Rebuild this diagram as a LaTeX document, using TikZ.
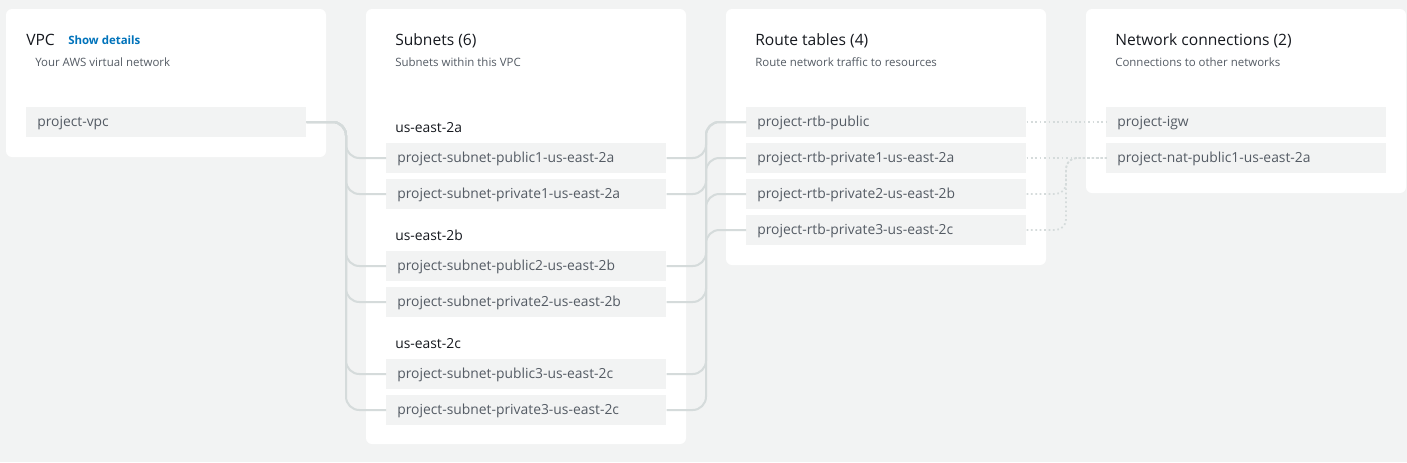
\documentclass[tikz,border=0pt]{standalone}
\usepackage{fontspec}
\setmainfont{Open Sans}
\usetikzlibrary{positioning}
\definecolor{pagebg}{HTML}{F2F3F3}
\definecolor{itembg}{HTML}{F2F3F3}
\definecolor{itemtxt}{HTML}{545B64}
\definecolor{titletxt}{HTML}{16191F}
\definecolor{linkc}{HTML}{D5DBDB}
\definecolor{awsblue}{HTML}{0073BB}

\begin{document}
\begin{tikzpicture}[x=0.75pt,y=-0.75pt,
card/.style={fill=white,rounded corners=4.5pt},
item/.style={fill=itembg,text=itemtxt,font=\fontsize{10.4}{12}\selectfont,
  minimum height=22.5pt,text width=193.5pt,inner xsep=8.25pt,inner ysep=0pt,
  text height=8pt,text depth=2pt,anchor=west,align=left},
title/.style={anchor=base west,inner sep=0pt,text=titletxt,font=\fontsize{11.7}{14}\selectfont},
sub/.style={anchor=base west,inner sep=0pt,text=itemtxt,font=\fontsize{8.6}{10}\selectfont},
zone/.style={anchor=base west,inner sep=0pt,text=titletxt,font=\fontsize{10.4}{12}\selectfont},
link/.style={draw=linkc,line width=1.5pt,rounded corners=10pt},
dlink/.style={draw=linkc,line width=1.3pt,dotted,rounded corners=8pt}]
\fill[pagebg] (0,0) rectangle (1407,462);
\useasboundingbox (0,0) rectangle (1407,462);

% cards
\fill[card] (6,9) rectangle (326,157);
\fill[card] (366,9) rectangle (686,444);
\fill[card] (726,9) rectangle (1046,265);
\fill[card] (1086,9) rectangle (1406,193);

% headings
\node[title] (t-vpc) at (26,45) {VPC};
\node[anchor=base west,inner sep=0pt,text=awsblue,font=\fontsize{8.6}{10}\bfseries] (details) at (68,44) {Show details};
\node[sub] (s-vpc) at (35,66) {Your AWS virtual network};
\node[title] (t-sn) at (395,45) {Subnets (6)};
\node[sub] (s-sn) at (395,66) {Subnets within this VPC};
\node[title] (t-rt) at (755,45) {Route tables (4)};
\node[sub] (s-rt) at (755,66) {Route network traffic to resources};
\node[title] (t-nc) at (1115,45) {Network connections (2)};
\node[sub] (s-nc) at (1115,66) {Connections to other networks};

% VPC
\node[item] (vpc) at (26,122) {project-vpc};

% subnets
\node[zone] (az-a) at (395,132) {us-east-2a};
\node[item] (sn-pub1) at (386,158) {project-subnet-public1-us-east-2a};
\node[item] (sn-priv1) at (386,194) {project-subnet-private1-us-east-2a};
\node[zone] (az-b) at (395,240) {us-east-2b};
\node[item] (sn-pub2) at (386,266) {project-subnet-public2-us-east-2b};
\node[item] (sn-priv2) at (386,302) {project-subnet-private2-us-east-2b};
\node[zone] (az-c) at (395,348) {us-east-2c};
\node[item] (sn-pub3) at (386,374) {project-subnet-public3-us-east-2c};
\node[item] (sn-priv3) at (386,410) {project-subnet-private3-us-east-2c};

% route tables
\node[item] (rt-pub) at (746,122) {project-rtb-public};
\node[item] (rt-priv1) at (746,158) {project-rtb-private1-us-east-2a};
\node[item] (rt-priv2) at (746,194) {project-rtb-private2-us-east-2b};
\node[item] (rt-priv3) at (746,230) {project-rtb-private3-us-east-2c};

% network connections
\node[item] (igw) at (1106,122) {project-igw};
\node[item] (nat) at (1106,158) {project-nat-public1-us-east-2a};

% vpc to subnets
\draw[link] (vpc.east) -- (346,122) |- (sn-pub1.west);
\draw[link] (vpc.east) -- (346,122) |- (sn-priv1.west);
\draw[link] (vpc.east) -- (346,122) |- (sn-pub2.west);
\draw[link] (vpc.east) -- (346,122) |- (sn-priv2.west);
\draw[link] (vpc.east) -- (346,122) |- (sn-pub3.west);
\draw[link] (vpc.east) -- (346,122) |- (sn-priv3.west);

% subnets to route tables
\draw[link] (sn-pub1.east) -- (706,158) |- (rt-pub.west);
\draw[link] (sn-pub2.east) -- (706,266) |- (rt-pub.west);
\draw[link] (sn-pub3.east) -- (706,374) |- (rt-pub.west);
\draw[link] (sn-priv1.east) -- (706,194) |- (rt-priv1.west);
\draw[link] (sn-priv2.east) -- (706,302) |- (rt-priv2.west);
\draw[link] (sn-priv3.east) -- (706,410) |- (rt-priv3.west);

% route tables to gateways
\draw[dlink] (rt-pub.east) -- (igw.west);
\draw[dlink] (rt-priv1.east) -- (nat.west);
\draw[dlink] (rt-priv2.east) -- (1066,194) |- (nat.west);
\draw[dlink] (rt-priv3.east) -- (1066,230) |- (nat.west);
\end{tikzpicture}
\end{document}
